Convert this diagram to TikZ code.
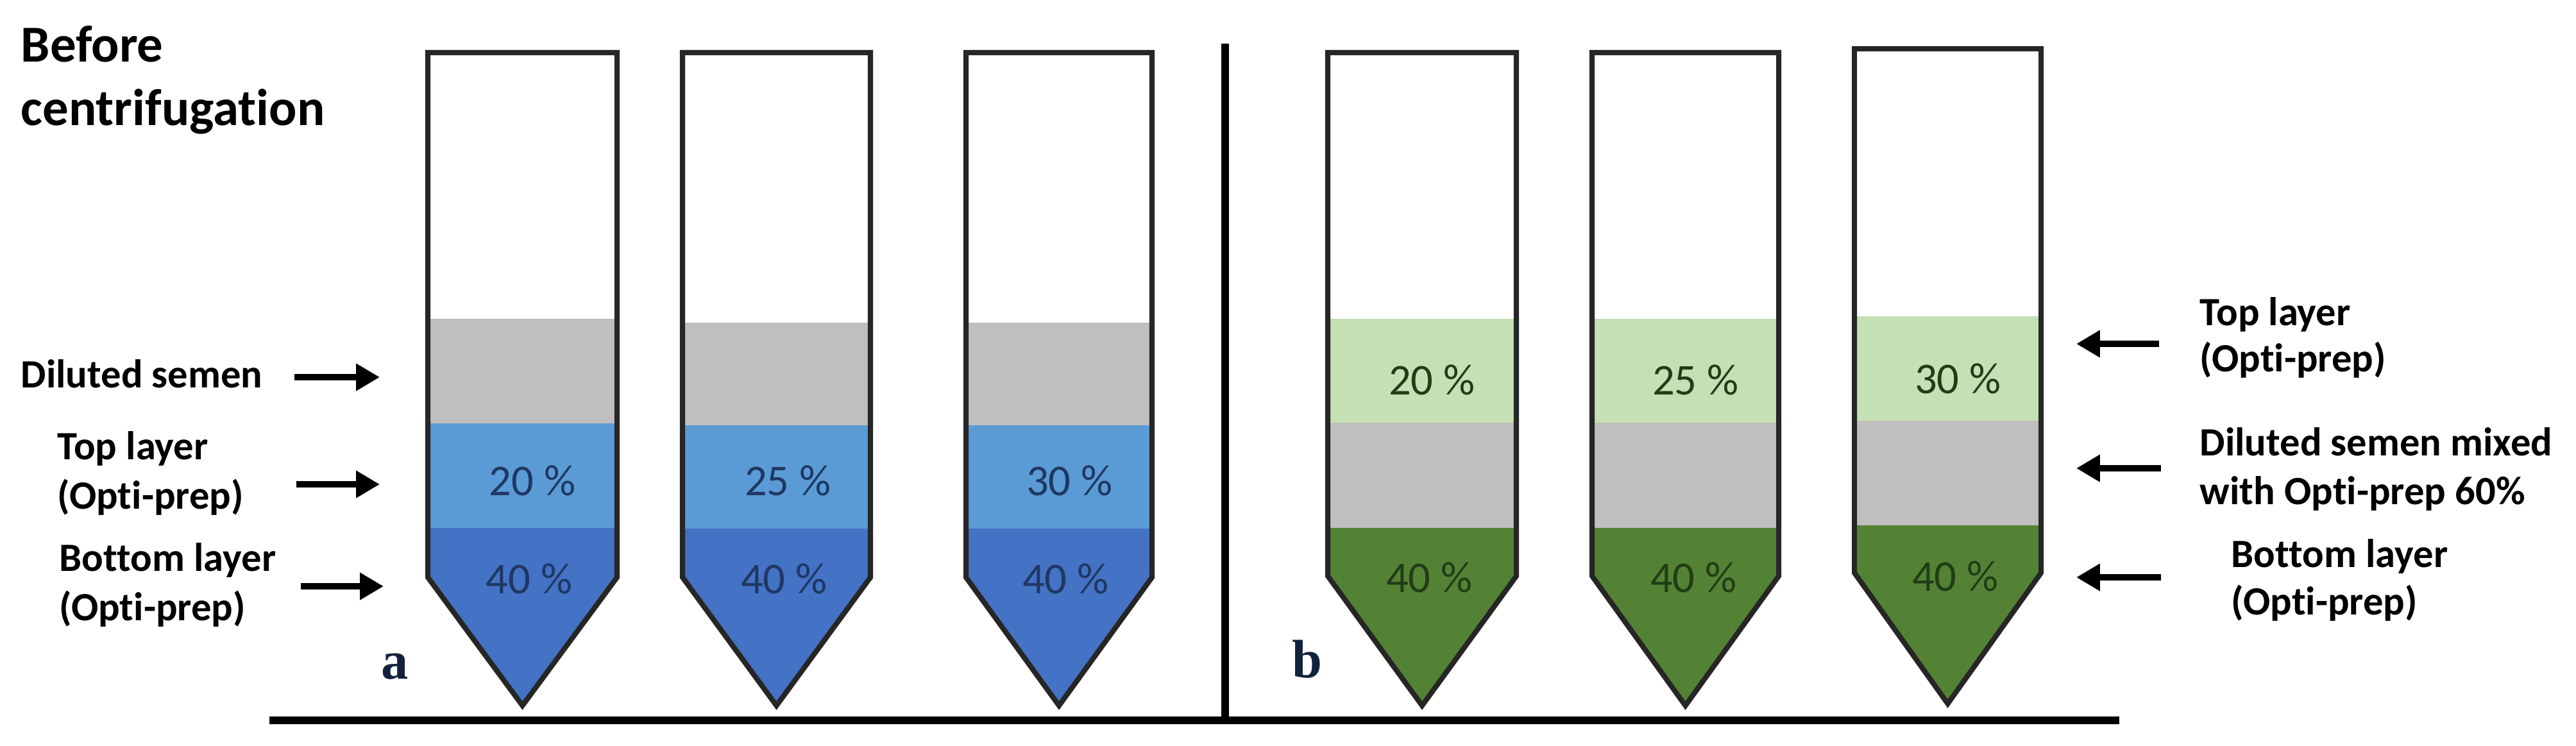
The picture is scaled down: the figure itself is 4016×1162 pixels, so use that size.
\documentclass[tikz,border=0pt]{standalone}
\usepackage{fontspec}
\setmainfont{Carlito}[Ligatures={NoCommon,NoRare,NoDiscretionary}]
\newfontfamily\serifab{Liberation Serif}
\usetikzlibrary{arrows.meta}
\definecolor{semgray}{HTML}{BFBFBF}
\definecolor{lblue}{HTML}{5B9BD5}
\definecolor{dblue}{HTML}{4472C4}
\definecolor{lgreen}{HTML}{C5E0B4}
\definecolor{dgreen}{HTML}{548235}
\definecolor{btext}{HTML}{1F3864}
\definecolor{gtext}{HTML}{213D17}
\definecolor{tubeedge}{HTML}{262626}
\begin{document}
\begin{tikzpicture}[x=0.01cm,y=-0.01cm,
  tubeline/.style={draw=tubeedge, line width=2.3pt, line join=miter},
  lbl/.style={font=\bfseries\fontsize{17.8}{21}\selectfont, anchor=base west, inner sep=0pt},
  ttl/.style={font=\bfseries\fontsize{23}{28}\selectfont, anchor=base west, inner sep=0pt},
  pct/.style={font=\fontsize{19.5}{22}\selectfont, anchor=base, inner sep=0pt},
  panel/.style={font=\serifab\bfseries\fontsize{24}{30}\selectfont, anchor=base, inner sep=0pt, text=btext!60!black},
  ptr/.style={line width=3.1pt, -{Triangle[length=10.5pt,width=11.5pt]}},
  rule/.style={line width=3.4pt, black}]
\useasboundingbox (0,0) rectangle (4016,1162);

% tubes: L/R/top/y1/y2/y3/cone/tip/c1/c2/c3
\foreach \L/\R/\T/\ya/\yb/\yc/\K/\P/\ca/\cb/\cc in {
  667/962/82/497/660/823/900/1100/semgray/lblue/dblue,
  1064/1357/82/503/663/824/900/1100/semgray/lblue/dblue,
  1506/1796/82/503/663/824/900/1100/semgray/lblue/dblue,
  2070/2364/82/497/659/823/898/1100/lgreen/semgray/dgreen,
  2482/2773/82/497/659/823/898/1100/lgreen/semgray/dgreen,
  2891/3182/76/493/656/819/893/1097/lgreen/semgray/dgreen}{
  \pgfmathsetmacro\M{(\L+\R)/2}
  \fill[\ca] (\L,\ya) rectangle (\R,\yb);
  \fill[\cb] (\L,\yb) rectangle (\R,\yc);
  \fill[\cc] (\L,\yc) -- (\R,\yc) -- (\R,\K) -- (\M,\P) -- (\L,\K) -- cycle;
  \draw[tubeline] (\L,\T) -- (\R,\T) -- (\R,\K) -- (\M,\P) -- (\L,\K) -- cycle;
}

% percentages, panel a
\node[pct, text=btext] (a20) at (830,772) {20 \%};
\node[pct, text=btext] (a25) at (1228,772) {25 \%};
\node[pct, text=btext] (a30) at (1667,772) {30 \%};
\node[pct, text=btext] (a40a) at (825,925) {40 \%};
\node[pct, text=btext] (a40b) at (1222,925) {40 \%};
\node[pct, text=btext] (a40c) at (1661,925) {40 \%};
% percentages, panel b
\node[pct, text=gtext] (b20) at (2232,615) {20 \%};
\node[pct, text=gtext] (b25) at (2643,615) {25 \%};
\node[pct, text=gtext] (b30) at (3052,613) {30 \%};
\node[pct, text=gtext] (b40a) at (2228,923) {40 \%};
\node[pct, text=gtext] (b40b) at (2640,923) {40 \%};
\node[pct, text=gtext] (b40c) at (3048,921) {40 \%};

% title
\node[ttl] (t1) at (32,96) {Before};
\node[ttl] (t2) at (32,195) {centrifugation};

% left labels
\node[lbl] (ds) at (32,604) {Diluted semen};
\node[lbl] (tl1) at (89,716) {Top layer};
\node[lbl] (tl2) at (89,793) {(Opti-prep)};
\node[lbl] (bl1) at (92,890) {Bottom layer};
\node[lbl] (bl2) at (92,967) {(Opti-prep)};

\coordinate (pa1s) at (459,588); \coordinate (pa1e) at (592,588);
\coordinate (pa2s) at (462,755); \coordinate (pa2e) at (592,755);
\coordinate (pa3s) at (469,914); \coordinate (pa3e) at (598,914);
\draw[ptr] (pa1s) -- (pa1e);
\draw[ptr] (pa2s) -- (pa2e);
\draw[ptr] (pa3s) -- (pa3e);

% right labels
\node[lbl] (rtl1) at (3429,507) {Top layer};
\node[lbl] (rtl2) at (3429,579) {(Opti-prep)};
\node[lbl] (rds1) at (3429,710) {Diluted semen mixed};
\node[lbl] (rds2) at (3429,786) {with Opti-prep 60\%};
\node[lbl] (rbl1) at (3478,884) {Bottom layer};
\node[lbl] (rbl2) at (3478,958) {(Opti-prep)};

\coordinate (pb1s) at (3366,536); \coordinate (pb1e) at (3237,536);
\coordinate (pb2s) at (3369,730); \coordinate (pb2e) at (3237,730);
\coordinate (pb3s) at (3369,900); \coordinate (pb3e) at (3237,900);
\draw[ptr] (pb1s) -- (pb1e);
\draw[ptr] (pb2s) -- (pb2e);
\draw[ptr] (pb3s) -- (pb3e);

% panel letters
\node[panel] (pa) at (616,1058) {a};
\node[panel] (pb) at (2038,1056) {b};

% rules
\coordinate (vtop) at (1910,68); \coordinate (vbot) at (1910,1123);
\coordinate (hl) at (420,1123); \coordinate (hr) at (3304,1123);
\draw[rule] (vtop) -- (vbot);
\draw[rule] (hl) -- (hr);
\end{tikzpicture}
\end{document}
